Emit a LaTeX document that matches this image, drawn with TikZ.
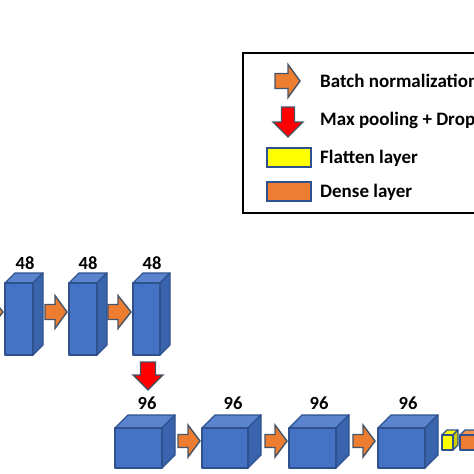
\documentclass[tikz,border=0pt]{standalone}
\usepackage{fontspec}
\setmainfont{Carlito}
\definecolor{bfront}{HTML}{4472C4}
\definecolor{btop}{HTML}{5A84CE}
\definecolor{bside}{HTML}{3A64AE}
\definecolor{bline}{HTML}{2F528F}
\definecolor{orng}{HTML}{ED7D31}
\definecolor{aline}{HTML}{44546A}
\definecolor{rd}{HTML}{FF0000}
\definecolor{yl}{HTML}{FFFF00}
\tikzset{
  face/.style={draw=bline, line width=1.3pt, line join=round},
  barrow/.style={fill=orng, draw=aline, line width=1.4pt, line join=miter},
  rarrow/.style={fill=rd, draw=aline, line width=1.4pt, line join=miter},
  lbl/.style={font=\bfseries\fontsize{18.5}{20}\selectfont, inner sep=0pt},
  legtxt/.style={font=\bfseries\fontsize{19}{22}\selectfont, anchor=west, inner sep=0pt},
}
% prism: front x1,y1 (top-left) to x2,y2 (bottom-right), depth d, colours
\newcommand{\myprism}[8]{%
  \fill[#6, face] (#1,#2) -- (#1+#5,#2-#5) -- (#3+#5,#2-#5) -- (#3,#2) -- cycle;
  \fill[#7, face] (#3,#2) -- (#3+#5,#2-#5) -- (#3+#5,#4-#5) -- (#3,#4) -- cycle;
  \fill[#8, face] (#1,#2) rectangle (#3,#4);
}
% right block arrow: x1, x2, yc, shaft half, head half, head start
\newcommand{\myright}[6]{%
  \draw[barrow] (#1,#3-#4) -- (#6,#3-#4) -- (#6,#3-#5) -- (#2,#3) -- (#6,#3+#5) -- (#6,#3+#4) -- (#1,#3+#4) -- cycle;
}
% down block arrow: xc, y1, y2, shaft half, head half, head start
\newcommand{\mydown}[6]{%
  \draw[rarrow] (#1-#4,#2) -- (#1+#4,#2) -- (#1+#4,#6) -- (#1+#5,#6) -- (#1,#3) -- (#1-#5,#6) -- (#1-#4,#6) -- cycle;
}
\begin{document}
\begin{tikzpicture}[x=1pt, y=-1pt]
\useasboundingbox (0,0) rectangle (474,474);
\fill[white] (0,0) rectangle (474,474);
\clip (0,0) rectangle (474,474);

% legend
\draw[line width=1.8pt] (243,53) rectangle (520,213);
\myright{275}{300}{81}{7.5}{16.5}{288}
\node[legtxt] (t1) at (320,81) {Batch normalization};
\mydown{288}{107}{137}{6.5}{15}{122}
\node[legtxt] (t2) at (320,120) {Max pooling + Dropout};
\draw[fill=yl, draw=bline, line width=1.3pt] (267,148) rectangle (311,167);
\node[legtxt] (t3) at (320,158) {Flatten layer};
\draw[fill=orng, draw=bline, line width=1.3pt] (267,182) rectangle (311,201);
\node[legtxt] (t4) at (320,192) {Dense layer};

% row 1
\myright{-25}{3}{312}{7.5}{16.5}{-10}
\myprism{5}{283}{33}{355}{10}{btop}{bside}{bfront}
\myright{45}{67}{312}{7.5}{16.5}{55}
\myprism{69}{283}{97}{355}{10}{btop}{bside}{bfront}
\myright{108}{131}{312}{7.5}{16.5}{118}
\myprism{133}{283}{160}{355}{10}{btop}{bside}{bfront}
\node[lbl] (l1) at (25,263) {48};
\node[lbl] (l2) at (88,263) {48};
\node[lbl] (l3) at (152,263) {48};

\mydown{148}{362}{390}{7.5}{15}{375}

% row 2
\myprism{115}{428}{162}{468}{13}{btop}{bside}{bfront}
\myright{178}{200}{441}{6.5}{16}{188}
\myprism{202}{428}{248}{468}{13}{btop}{bside}{bfront}
\myright{265}{287}{441}{6.5}{16}{275}
\myprism{289}{428}{336}{468}{13}{btop}{bside}{bfront}
\myright{353}{375}{441}{6.5}{16}{363}
\myprism{378}{428}{425}{468}{13}{btop}{bside}{bfront}
\node[lbl] (m1) at (147,403) {96};
\node[lbl] (m2) at (233,403) {96};
\node[lbl] (m3) at (319,403) {96};
\node[lbl] (m4) at (408,403) {96};

\myprism{442}{435}{453}{450}{5}{yl}{yl!80!black}{yl}
\myprism{460}{435}{485}{450}{5}{orng!85!white}{orng!80!black}{orng}
\end{tikzpicture}
\end{document}
